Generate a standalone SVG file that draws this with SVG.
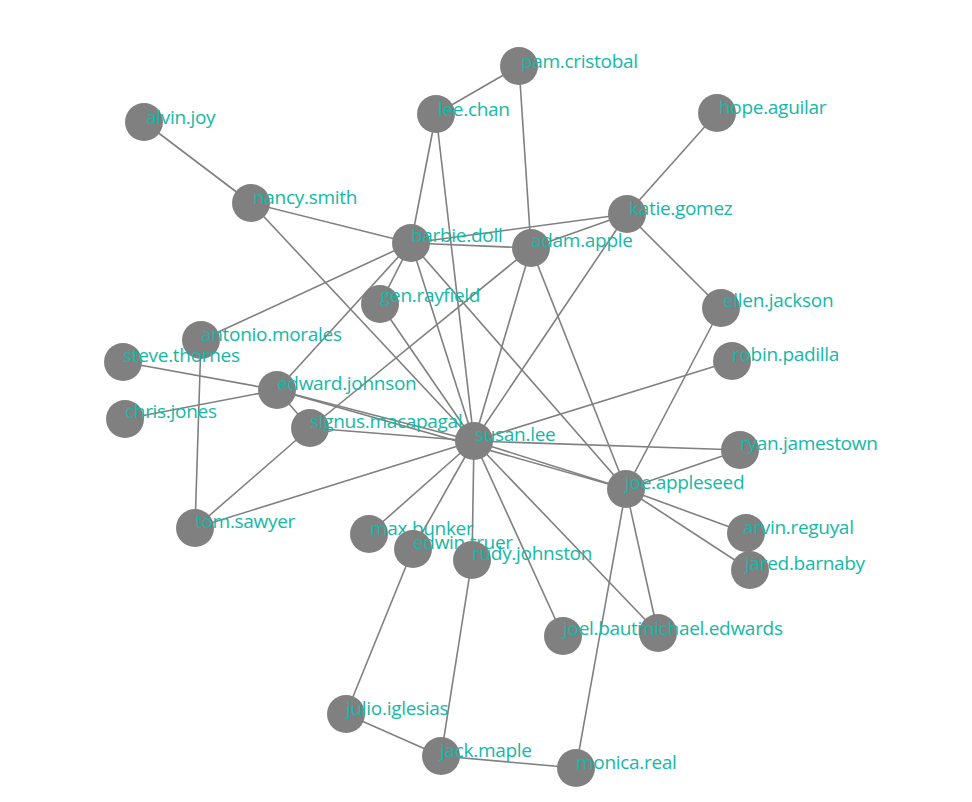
<svg xmlns="http://www.w3.org/2000/svg" width="972" height="802" viewBox="0 0 972 802">
<style>
.e line{stroke:#808080;stroke-width:1.6}
.n circle{fill:#808080}
.n text{fill:#14b8a6;font-family:"Open Sans","DejaVu Sans",sans-serif;font-size:19px;letter-spacing:-0.3px}
</style>
<rect width="972" height="802" fill="#fff"/>
<g id="connectors" class="e">
<line x1="519" y1="66" x2="436" y2="114"/>
<line x1="519" y1="66" x2="531" y2="248"/>
<line x1="436" y1="114" x2="411" y2="243"/>
<line x1="436" y1="114" x2="474" y2="441"/>
<line x1="144" y1="122" x2="251" y2="203"/>
<line x1="251" y1="203" x2="411" y2="243"/>
<line x1="251" y1="203" x2="474" y2="441"/>
<line x1="717" y1="113" x2="627" y2="214"/>
<line x1="627" y1="214" x2="411" y2="243"/>
<line x1="627" y1="214" x2="531" y2="248"/>
<line x1="627" y1="214" x2="721" y2="308"/>
<line x1="627" y1="214" x2="474" y2="441"/>
<line x1="411" y1="243" x2="531" y2="248"/>
<line x1="411" y1="243" x2="380" y2="304"/>
<line x1="411" y1="243" x2="201" y2="340"/>
<line x1="411" y1="243" x2="277" y2="390"/>
<line x1="411" y1="243" x2="474" y2="441"/>
<line x1="411" y1="243" x2="626" y2="489"/>
<line x1="380" y1="304" x2="474" y2="441"/>
<line x1="531" y1="248" x2="310" y2="428"/>
<line x1="531" y1="248" x2="474" y2="441"/>
<line x1="531" y1="248" x2="626" y2="489"/>
<line x1="721" y1="308" x2="626" y2="489"/>
<line x1="123" y1="362" x2="277" y2="390"/>
<line x1="125" y1="419" x2="277" y2="390"/>
<line x1="201" y1="340" x2="195" y2="528"/>
<line x1="277" y1="390" x2="310" y2="428"/>
<line x1="277" y1="390" x2="474" y2="441"/>
<line x1="277" y1="390" x2="626" y2="489"/>
<line x1="310" y1="428" x2="474" y2="441"/>
<line x1="310" y1="428" x2="195" y2="528"/>
<line x1="195" y1="528" x2="474" y2="441"/>
<line x1="732" y1="361" x2="474" y2="441"/>
<line x1="740" y1="450" x2="474" y2="441"/>
<line x1="740" y1="450" x2="626" y2="489"/>
<line x1="474" y1="441" x2="626" y2="489"/>
<line x1="474" y1="441" x2="369" y2="534"/>
<line x1="474" y1="441" x2="413" y2="549"/>
<line x1="474" y1="441" x2="472" y2="560"/>
<line x1="474" y1="441" x2="563" y2="636"/>
<line x1="474" y1="441" x2="658" y2="633"/>
<line x1="626" y1="489" x2="746" y2="533"/>
<line x1="626" y1="489" x2="750" y2="570"/>
<line x1="626" y1="489" x2="658" y2="633"/>
<line x1="626" y1="489" x2="576" y2="768"/>
<line x1="413" y1="549" x2="346" y2="714"/>
<line x1="472" y1="560" x2="441" y2="756"/>
<line x1="346" y1="714" x2="441" y2="756"/>
<line x1="441" y1="756" x2="576" y2="768"/>
</g>
<g class="n">
<g id="pam.cristobal"><circle cx="519" cy="66" r="19"/><text x="521" y="68">pam.cristobal</text></g>
<g id="lee.chan"><circle cx="436" cy="114" r="19"/><text x="438" y="116">lee.chan</text></g>
<g id="alvin.joy"><circle cx="144" cy="122" r="19"/><text x="146" y="124">alvin.joy</text></g>
<g id="hope.aguilar"><circle cx="717" cy="113" r="19"/><text x="719" y="114">hope.aguilar</text></g>
<g id="nancy.smith"><circle cx="251" cy="203" r="19"/><text x="253" y="204">nancy.smith</text></g>
<g id="katie.gomez"><circle cx="627" cy="214" r="19"/><text x="629" y="215">katie.gomez</text></g>
<g id="barbie.doll"><circle cx="411" cy="243" r="19"/><text x="411" y="242">barbie.doll</text></g>
<g id="adam.apple"><circle cx="531" cy="248" r="19"/><text x="531" y="247">adam.apple</text></g>
<g id="gen.rayfield"><circle cx="380" cy="304" r="19"/><text x="380" y="302">gen.rayfield</text></g>
<g id="ellen.jackson"><circle cx="721" cy="308" r="19"/><text x="723" y="307">ellen.jackson</text></g>
<g id="antonio.morales"><circle cx="201" cy="340" r="19"/><text x="201" y="341">antonio.morales</text></g>
<g id="steve.thornes"><circle cx="123" cy="362" r="19"/><text x="123" y="362">steve.thornes</text></g>
<g id="robin.padilla"><circle cx="732" cy="361" r="19"/><text x="732" y="361">robin.padilla</text></g>
<g id="edward.johnson"><circle cx="277" cy="390" r="19"/><text x="277" y="390">edward.johnson</text></g>
<g id="chris.jones"><circle cx="125" cy="419" r="19"/><text x="125" y="418">chris.jones</text></g>
<g id="signus.macapagal"><circle cx="310" cy="428" r="19"/><text x="310" y="428">signus.macapagal</text></g>
<g id="susan.lee"><circle cx="474" cy="441" r="19"/><text x="475" y="441">susan.lee</text></g>
<g id="ryan.jamestown"><circle cx="740" cy="450" r="19"/><text x="740" y="450">ryan.jamestown</text></g>
<g id="joe.appleseed"><circle cx="626" cy="489" r="19"/><text x="625" y="489">joe.appleseed</text></g>
<g id="tom.sawyer"><circle cx="195" cy="528" r="19"/><text x="195" y="528">tom.sawyer</text></g>
<g id="arvin.reguyal"><circle cx="746" cy="533" r="19"/><text x="743" y="534">arvin.reguyal</text></g>
<g id="max.bunker"><circle cx="369" cy="534" r="19"/><text x="370" y="535">max.bunker</text></g>
<g id="edwin.truer"><circle cx="413" cy="549" r="19"/><text x="413" y="549">edwin.truer</text></g>
<g id="rudy.johnston"><circle cx="472" cy="560" r="19"/><text x="472" y="560">rudy.johnston</text></g>
<g id="jared.barnaby"><circle cx="750" cy="570" r="19"/><text x="745" y="570">jared.barnaby</text></g>
<g id="joel.bautista"><circle cx="563" cy="636" r="19"/><text x="563" y="635">joel.bautista</text></g>
<g id="michael.edwards"><circle cx="658" cy="633" r="19"/><text x="637" y="635">michael.edwards</text></g>
<g id="julio.iglesias"><circle cx="346" cy="714" r="19"/><text x="346" y="715">julio.iglesias</text></g>
<g id="jack.maple"><circle cx="441" cy="756" r="19"/><text x="440" y="757">jack.maple</text></g>
<g id="monica.real"><circle cx="576" cy="768" r="19"/><text x="576" y="769">monica.real</text></g>
</g>
</svg>
